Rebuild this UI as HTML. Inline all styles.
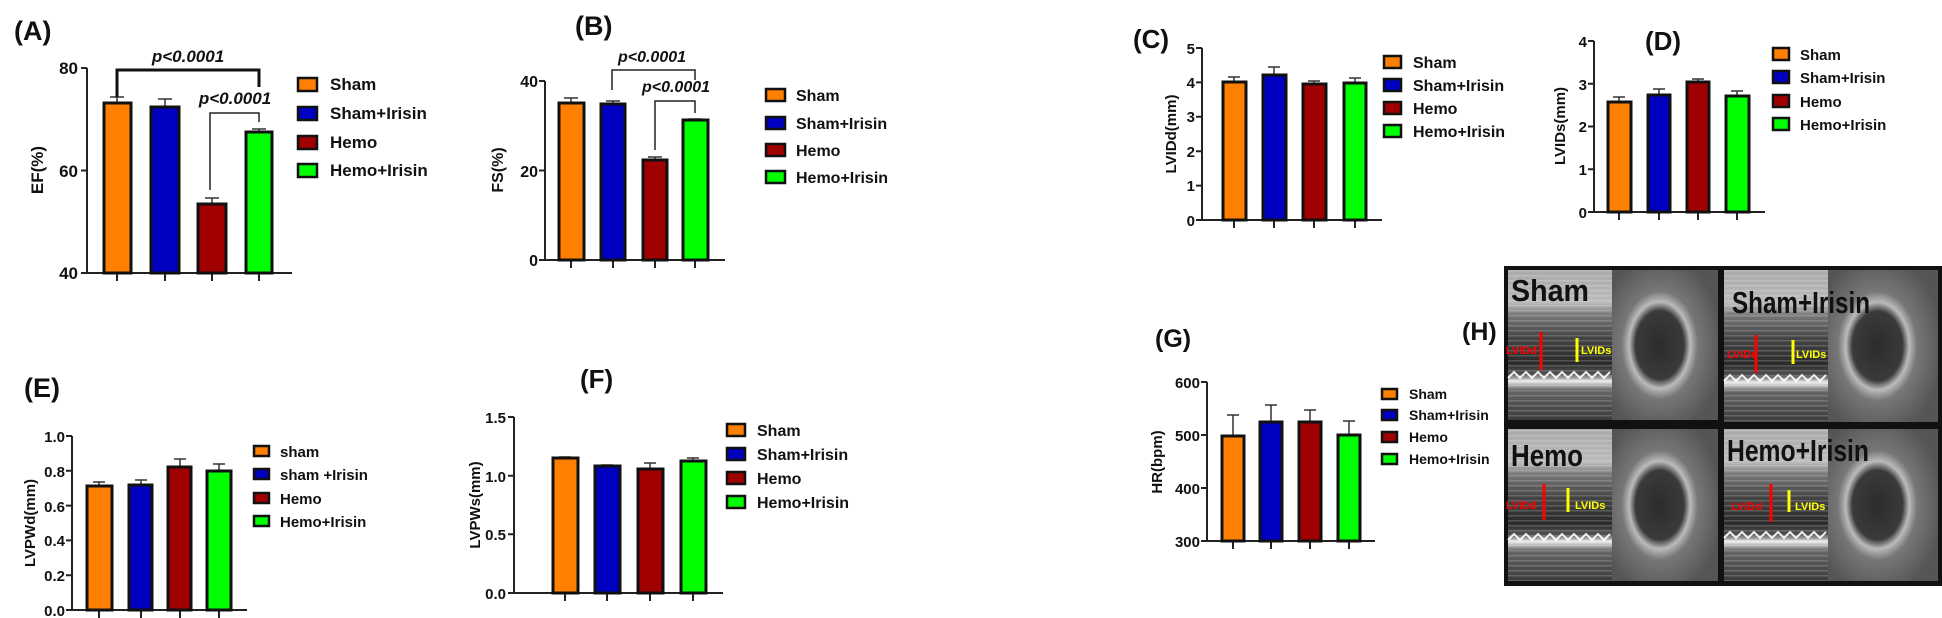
<!DOCTYPE html>
<html><head><meta charset="utf-8"><style>
html,body{margin:0;padding:0;background:#fff;}
svg{display:block;font-family:"Liberation Sans",sans-serif;}
.t{font-weight:bold;fill:#111;}
.bar{stroke:#111;stroke-width:3;}
.ax{stroke:#222;stroke-width:2;fill:none;}
.er{stroke:#333;stroke-width:1.5;fill:none;}
.lg{stroke:#111;stroke-width:2.5;}
</style></head><body>
<svg width="1942" height="618" viewBox="0 0 1942 618">
<defs>
<linearGradient id="mm" x1="0" y1="0" x2="0" y2="1">
<stop offset="0" stop-color="#aaa"/><stop offset="0.22" stop-color="#bbb"/>
<stop offset="0.3" stop-color="#777"/><stop offset="0.45" stop-color="#444"/>
<stop offset="0.62" stop-color="#2a2a2a"/><stop offset="0.7" stop-color="#555"/>
<stop offset="0.74" stop-color="#eee"/><stop offset="0.8" stop-color="#666"/>
<stop offset="1" stop-color="#3a3a3a"/></linearGradient>
<radialGradient id="bm" cx="0.45" cy="0.5" r="0.6">
<stop offset="0" stop-color="#2c2c2c"/><stop offset="0.38" stop-color="#3a3a3a"/>
<stop offset="0.48" stop-color="#bbb"/><stop offset="0.6" stop-color="#777"/>
<stop offset="1" stop-color="#555"/></radialGradient>
<pattern id="st" width="4" height="5" patternUnits="userSpaceOnUse"><rect width="4" height="1.5" fill="#fff" opacity="0.18"/></pattern>
</defs>

<!-- (A) -->
<text x="14" y="40" class="t" font-size="27">(A)</text>
<path class="ax" d="M87,68V273H292M81,68H87M81,170.5H87M81,273H87M117,273v8M165,273v8M212,273v8M259,273v8"/>
<g class="t" font-size="17" text-anchor="end"><text x="78" y="74">80</text><text x="78" y="177">60</text><text x="78" y="279">40</text></g>
<text class="t" font-size="17" transform="translate(43,170) rotate(-90)" text-anchor="middle">EF(%)</text>
<path class="er" d="M117,103V97M110,97H124M165,107V99M158,99H172M212,204V198M205,198H219M259,132V129M252,129H266"/>
<rect class="bar" x="104" y="103" width="27" height="170" fill="#ff8000"/>
<rect class="bar" x="151" y="107" width="28" height="166" fill="#0000c0"/>
<rect class="bar" x="198" y="204" width="28" height="69" fill="#a00000"/>
<rect class="bar" x="246" y="132" width="26" height="141" fill="#00ff00"/>
<path d="M117,97V70H259V87" stroke="#111" stroke-width="3" fill="none"/>
<path d="M210,190V113H259V122" stroke="#222" stroke-width="1.5" fill="none"/>
<g class="t" font-size="17" font-style="italic" text-anchor="middle"><text x="188" y="62">p&lt;0.0001</text><text x="235" y="104">p&lt;0.0001</text></g>
<g class="lg"><rect x="298" y="78" width="19" height="13" fill="#ff8000"/><rect x="298" y="107" width="19" height="13" fill="#0000c0"/><rect x="298" y="136" width="19" height="13" fill="#a00000"/><rect x="298" y="164" width="19" height="13" fill="#00ff00"/></g>
<g class="t" font-size="17"><text x="330" y="90">Sham</text><text x="330" y="119">Sham+Irisin</text><text x="330" y="148">Hemo</text><text x="330" y="176">Hemo+Irisin</text></g>

<!-- (B) -->
<text x="575" y="35" class="t" font-size="27">(B)</text>
<path class="ax" d="M545,81V260H725M539,81H545M539,170.5H545M539,260H545M571,260v8M613,260v8M655,260v8M695,260v8"/>
<g class="t" font-size="16" text-anchor="end"><text x="538" y="87">40</text><text x="538" y="177">20</text><text x="538" y="266">0</text></g>
<text class="t" font-size="16" transform="translate(503,170) rotate(-90)" text-anchor="middle">FS(%)</text>
<path class="er" d="M571,103V98M564,98H578M613,104V101M606,101H620M655,160V157M648,157H662M695,120V119M688,119H702"/>
<rect class="bar" x="559" y="103" width="25" height="157" fill="#ff8000"/>
<rect class="bar" x="601" y="104" width="24" height="156" fill="#0000c0"/>
<rect class="bar" x="643" y="160" width="24" height="100" fill="#a00000"/>
<rect class="bar" x="683" y="120" width="25" height="140" fill="#00ff00"/>
<path d="M612,90V70H695V80M655,150V101H695V113" stroke="#222" stroke-width="1.5" fill="none"/>
<g class="t" font-size="16" font-style="italic" text-anchor="middle"><text x="652" y="62">p&lt;0.0001</text><text x="676" y="92">p&lt;0.0001</text></g>
<g class="lg"><rect x="766" y="89" width="19" height="12" fill="#ff8000"/><rect x="766" y="117" width="19" height="12" fill="#0000c0"/><rect x="766" y="144" width="19" height="12" fill="#a00000"/><rect x="766" y="171" width="19" height="12" fill="#00ff00"/></g>
<g class="t" font-size="16"><text x="796" y="101">Sham</text><text x="796" y="129">Sham+Irisin</text><text x="796" y="156">Hemo</text><text x="796" y="183">Hemo+Irisin</text></g>

<!-- (C) -->
<text x="1133" y="48" class="t" font-size="26">(C)</text>
<path class="ax" d="M1202,48V220H1382M1196,48H1202M1196,82.4H1202M1196,116.8H1202M1196,151.2H1202M1196,185.6H1202M1196,220H1202M1234,220v8M1274,220v8M1314,220v8M1355,220v8"/>
<g class="t" font-size="15" text-anchor="end"><text x="1195" y="54">5</text><text x="1195" y="88">4</text><text x="1195" y="122">3</text><text x="1195" y="157">2</text><text x="1195" y="191">1</text><text x="1195" y="226">0</text></g>
<text class="t" font-size="15" transform="translate(1176,134) rotate(-90)" text-anchor="middle">LVIDd(mm)</text>
<path class="er" d="M1234,82V77M1228,77H1240M1274,75V67M1268,67H1280M1314,84V81M1308,81H1320M1355,83V78M1349,78H1361"/>
<rect class="bar" x="1223" y="82" width="23" height="138" fill="#ff8000"/>
<rect class="bar" x="1263" y="75" width="23" height="145" fill="#0000c0"/>
<rect class="bar" x="1303" y="84" width="23" height="136" fill="#a00000"/>
<rect class="bar" x="1344" y="83" width="22" height="137" fill="#00ff00"/>
<g class="lg"><rect x="1384" y="56" width="17" height="12" fill="#ff8000"/><rect x="1384" y="79" width="17" height="12" fill="#0000c0"/><rect x="1384" y="102" width="17" height="12" fill="#a00000"/><rect x="1384" y="125" width="17" height="12" fill="#00ff00"/></g>
<g class="t" font-size="16"><text x="1413" y="68">Sham</text><text x="1413" y="91">Sham+Irisin</text><text x="1413" y="114">Hemo</text><text x="1413" y="137">Hemo+Irisin</text></g>

<!-- (D) -->
<text x="1645" y="50" class="t" font-size="26">(D)</text>
<path class="ax" d="M1594,41V212H1765M1588,41H1594M1588,83.75H1594M1588,126.5H1594M1588,169.25H1594M1588,212H1594M1619,212v8M1659,212v8M1698,212v8M1737,212v8"/>
<g class="t" font-size="15" text-anchor="end"><text x="1587" y="47">4</text><text x="1587" y="90">3</text><text x="1587" y="132">2</text><text x="1587" y="175">1</text><text x="1587" y="218">0</text></g>
<text class="t" font-size="15" transform="translate(1565,126) rotate(-90)" text-anchor="middle">LVIDs(mm)</text>
<path class="er" d="M1619,102V97M1613,97H1625M1659,95V89M1653,89H1665M1698,82V79M1692,79H1704M1737,96V91M1731,91H1743"/>
<rect class="bar" x="1608" y="102" width="23" height="110" fill="#ff8000"/>
<rect class="bar" x="1648" y="95" width="22" height="117" fill="#0000c0"/>
<rect class="bar" x="1687" y="82" width="22" height="130" fill="#a00000"/>
<rect class="bar" x="1726" y="96" width="23" height="116" fill="#00ff00"/>
<g class="lg"><rect x="1773" y="48" width="16" height="12" fill="#ff8000"/><rect x="1773" y="71" width="16" height="12" fill="#0000c0"/><rect x="1773" y="95" width="16" height="12" fill="#a00000"/><rect x="1773" y="118" width="16" height="12" fill="#00ff00"/></g>
<g class="t" font-size="15"><text x="1800" y="60">Sham</text><text x="1800" y="83">Sham+Irisin</text><text x="1800" y="107">Hemo</text><text x="1800" y="130">Hemo+Irisin</text></g>

<!-- (E) -->
<text x="24" y="397" class="t" font-size="27">(E)</text>
<path class="ax" d="M72,436V610H247M66,436H72M66,470.8H72M66,505.6H72M66,540.4H72M66,575.2H72M66,610H72M99,610v8M141,610v8M180,610v8M219,610v8"/>
<g class="t" font-size="15" text-anchor="end"><text x="65" y="442">1.0</text><text x="65" y="477">0.8</text><text x="65" y="512">0.6</text><text x="65" y="546">0.4</text><text x="65" y="581">0.2</text><text x="65" y="616">0.0</text></g>
<text class="t" font-size="15" transform="translate(35,523) rotate(-90)" text-anchor="middle">LVPWd(mm)</text>
<path class="er" d="M99,486V482M93,482H105M141,485V480M135,480H147M180,467V459M174,459H186M219,471V464M213,464H225"/>
<rect class="bar" x="87" y="486" width="25" height="124" fill="#ff8000"/>
<rect class="bar" x="129" y="485" width="23" height="125" fill="#0000c0"/>
<rect class="bar" x="168" y="467" width="23" height="143" fill="#a00000"/>
<rect class="bar" x="207" y="471" width="24" height="139" fill="#00ff00"/>
<g class="lg"><rect x="254" y="446" width="15" height="10" fill="#ff8000"/><rect x="254" y="469" width="15" height="10" fill="#0000c0"/><rect x="254" y="493" width="15" height="10" fill="#a00000"/><rect x="254" y="516" width="15" height="10" fill="#00ff00"/></g>
<g class="t" font-size="15"><text x="280" y="457">sham</text><text x="280" y="480">sham +Irisin</text><text x="280" y="504">Hemo</text><text x="280" y="527">Hemo+Irisin</text></g>

<!-- (F) -->
<text x="580" y="388" class="t" font-size="26">(F)</text>
<path class="ax" d="M514,417V593H723M508,417H514M508,475.7H514M508,534.3H514M508,593H514M565,593v8M607,593v8M650,593v8M693,593v8"/>
<g class="t" font-size="15" text-anchor="end"><text x="506" y="423">1.5</text><text x="506" y="482">1.0</text><text x="506" y="540">0.5</text><text x="506" y="599">0.0</text></g>
<text class="t" font-size="15" transform="translate(480,505) rotate(-90)" text-anchor="middle">LVPWs(mm)</text>
<path class="er" d="M565,458V457M559,457H571M607,466V465M601,465H613M650,469V463M644,463H656M693,461V458M687,458H699"/>
<rect class="bar" x="553" y="458" width="25" height="135" fill="#ff8000"/>
<rect class="bar" x="595" y="466" width="25" height="127" fill="#0000c0"/>
<rect class="bar" x="638" y="469" width="25" height="124" fill="#a00000"/>
<rect class="bar" x="681" y="461" width="25" height="132" fill="#00ff00"/>
<g class="lg"><rect x="727" y="424" width="18" height="12" fill="#ff8000"/><rect x="727" y="448" width="18" height="12" fill="#0000c0"/><rect x="727" y="472" width="18" height="12" fill="#a00000"/><rect x="727" y="496" width="18" height="12" fill="#00ff00"/></g>
<g class="t" font-size="16"><text x="757" y="436">Sham</text><text x="757" y="460">Sham+Irisin</text><text x="757" y="484">Hemo</text><text x="757" y="508">Hemo+Irisin</text></g>

<!-- (G) -->
<text x="1155" y="347" class="t" font-size="25">(G)</text>
<path class="ax" d="M1207,382V541H1375M1201,382H1207M1201,435H1207M1201,488H1207M1201,541H1207M1233,541v8M1271,541v8M1310,541v8M1349,541v8"/>
<g class="t" font-size="15" text-anchor="end"><text x="1200" y="388">600</text><text x="1200" y="441">500</text><text x="1200" y="494">400</text><text x="1200" y="547">300</text></g>
<text class="t" font-size="15" transform="translate(1162,462) rotate(-90)" text-anchor="middle">HR(bpm)</text>
<path class="er" d="M1233,436V415M1227,415H1239M1271,422V405M1265,405H1277M1310,422V410M1304,410H1316M1349,435V421M1343,421H1355"/>
<rect class="bar" x="1222" y="436" width="22" height="105" fill="#ff8000"/>
<rect class="bar" x="1260" y="422" width="22" height="119" fill="#0000c0"/>
<rect class="bar" x="1299" y="422" width="22" height="119" fill="#a00000"/>
<rect class="bar" x="1338" y="435" width="22" height="106" fill="#00ff00"/>
<g class="lg"><rect x="1382" y="389" width="15" height="10" fill="#ff8000"/><rect x="1382" y="410" width="15" height="10" fill="#0000c0"/><rect x="1382" y="432" width="15" height="10" fill="#a00000"/><rect x="1382" y="454" width="15" height="10" fill="#00ff00"/></g>
<g class="t" font-size="14"><text x="1409" y="399">Sham</text><text x="1409" y="420">Sham+Irisin</text><text x="1409" y="442">Hemo</text><text x="1409" y="464">Hemo+Irisin</text></g>

<!-- (H) -->
<text x="1462" y="340" class="t" font-size="25">(H)</text>
<rect x="1504" y="266" width="438" height="320" fill="#111"/>
<g>
<rect x="1508" y="270" width="104" height="150" fill="url(#mm)"/><rect x="1508" y="270" width="104" height="150" fill="url(#st)"/>
<rect x="1612" y="270" width="106" height="150" fill="url(#bm)"/>
<rect x="1724" y="270" width="104" height="152" fill="url(#mm)"/><rect x="1724" y="270" width="104" height="152" fill="url(#st)"/>
<rect x="1828" y="270" width="110" height="152" fill="url(#bm)"/>
<rect x="1508" y="429" width="104" height="152" fill="url(#mm)"/><rect x="1508" y="429" width="104" height="152" fill="url(#st)"/>
<rect x="1612" y="429" width="106" height="152" fill="url(#bm)"/>
<rect x="1724" y="429" width="104" height="152" fill="url(#mm)"/><rect x="1724" y="429" width="104" height="152" fill="url(#st)"/>
<rect x="1828" y="429" width="110" height="152" fill="url(#bm)"/>
</g>
<g stroke="#fff" stroke-width="2" fill="none" opacity="0.9">
<path d="M1508,378l6,-6l6,6l6,-6l6,6l6,-6l6,6l6,-6l6,6l6,-6l6,6l6,-6l6,6l6,-6l6,6l6,-6l6,6l6,-6"/>
<path d="M1724,381l6,-6l6,6l6,-6l6,6l6,-6l6,6l6,-6l6,6l6,-6l6,6l6,-6l6,6l6,-6l6,6l6,-6l6,6l6,-6"/>
<path d="M1508,540l6,-6l6,6l6,-6l6,6l6,-6l6,6l6,-6l6,6l6,-6l6,6l6,-6l6,6l6,-6l6,6l6,-6l6,6l6,-6"/>
<path d="M1724,538l6,-6l6,6l6,-6l6,6l6,-6l6,6l6,-6l6,6l6,-6l6,6l6,-6l6,6l6,-6l6,6l6,-6l6,6l6,-6"/>
</g>
<g class="t" font-size="31" fill="#000">
<text x="1511" y="301" textLength="78" lengthAdjust="spacingAndGlyphs">Sham</text>
<text x="1732" y="313" textLength="138" lengthAdjust="spacingAndGlyphs">Sham+Irisin</text>
<text x="1511" y="466" textLength="72" lengthAdjust="spacingAndGlyphs">Hemo</text>
<text x="1727" y="461" textLength="142" lengthAdjust="spacingAndGlyphs">Hemo+Irisin</text>
</g>
<g font-weight="bold" font-size="11">
<text x="1506" y="354" fill="#f00">LVIDd</text><text x="1581" y="354" fill="#ff0">LVIDs</text>
<text x="1727" y="358" fill="#f00">LVIDd</text><text x="1796" y="358" fill="#ff0">LVIDs</text>
<text x="1506" y="509" fill="#f00">LVIDd</text><text x="1575" y="509" fill="#ff0">LVIDs</text>
<text x="1731" y="510" fill="#f00">LVIDd</text><text x="1795" y="510" fill="#ff0">LVIDs</text>
</g>
<g stroke-width="3">
<path d="M1541,332V370M1756,335V373M1544,484V520M1771,484V522" stroke="#f00"/>
<path d="M1577,338V362M1793,340V364M1568,488V512M1789,490V512" stroke="#ff0"/>
</g>
</svg>
</body></html>
